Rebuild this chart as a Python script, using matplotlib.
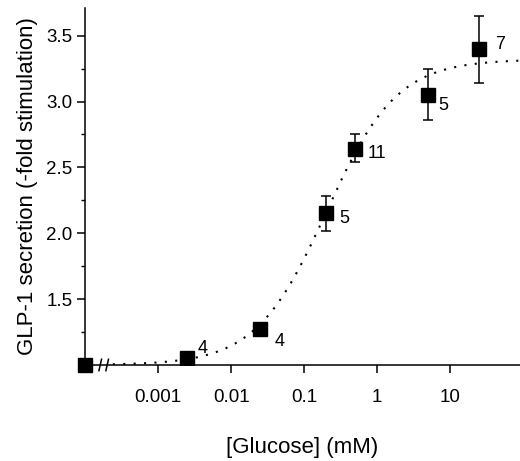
import numpy as np
import matplotlib.pyplot as plt

plt.rcParams['font.family'] = ['Liberation Sans', 'DejaVu Sans']

# data
glucose = [0.0025, 0.025, 0.2, 0.5, 5.0, 25.0]   # mM
secretion = [1.05, 1.27, 2.15, 2.64, 3.05, 3.40]
err_up = [0.05, 0.03, 0.13, 0.11, 0.20, 0.25]
err_dn = [0.05, 0.03, 0.13, 0.10, 0.19, 0.26]
n_labels = ['4', '4', '5', '11', '5', '7']
control_x = 1e-4   # 0 mM glucose drawn on the axis
control_y = 1.0

# fitted dose-response curve parameters
bottom, top, ec50, hill = 1.0, 3.32, 0.2, 0.9

# label offsets (pixels) for the n numbers
lab_dx = [10, 14, 13, 12, 10, 16]
lab_dy = [10, -12, -5, -5, -11, 4]

fig = plt.figure(figsize=(5.2, 4.61), dpi=100)
ax = fig.add_axes([0.1635, 0.2083, 0.836, 0.7743])

xc = np.logspace(np.log10(2.4e-4), np.log10(89), 300)
yc = bottom + (top - bottom) / (1 + (ec50 / xc) ** hill)
ax.plot(xc, yc, color='black', lw=1.5, linestyle=(0, (1, 4)))

ax.errorbar(glucose, secretion, yerr=[err_dn, err_up], fmt='s', color='black',
            ms=9.5, capsize=3.5, elinewidth=1.1, capthick=1.1)
ax.plot([control_x], [control_y], 's', color='black', ms=9.5, clip_on=False, zorder=5)

for x, y, lab, dx, dy in zip(glucose, secretion, n_labels, lab_dx, lab_dy):
    ax.annotate(lab, (x, y), xytext=(dx, dy), textcoords='offset pixels',
                fontsize=13, va='center', ha='left')

ax.set_xscale('log')
ax.set_xlim(1e-4, 89)
ax.set_ylim(1.0, 3.71)
ax.set_xticks([0.001, 0.01, 0.1, 1, 10])
ax.set_xticklabels(['0.001', '0.01', '0.1', '1', '10'])
ax.xaxis.set_minor_locator(plt.NullLocator())
ax.set_yticks([1.5, 2.0, 2.5, 3.0, 3.5])
ax.set_yticks(np.arange(1.25, 3.7, 0.5), minor=True)

for s in ['top', 'right']:
    ax.spines[s].set_visible(False)
for s in ['left', 'bottom']:
    ax.spines[s].set_linewidth(1.1)

ax.tick_params(axis='both', which='major', direction='out', length=5.5, width=1.1,
               labelsize=13.5)
ax.tick_params(axis='y', which='minor', direction='out', length=3, width=1.0)
ax.tick_params(axis='x', pad=12)

# axis break marks
for xb in (0.035, 0.051):
    ax.plot([xb - 0.003, xb + 0.003], [-0.016, 0.016], transform=ax.transAxes,
            color='black', lw=1.1, clip_on=False)

ax.set_xlabel('[Glucose] (mM)', fontsize=16, labelpad=22)
ax.set_ylabel('GLP-1 secretion (-fold stimulation)', fontsize=16, labelpad=6)

fig.savefig('out.png', dpi=100)
